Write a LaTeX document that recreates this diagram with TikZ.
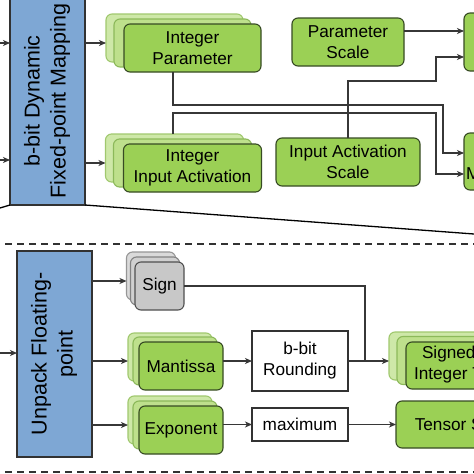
\documentclass[tikz,border=0pt]{standalone}
\usepackage{fontspec}
\setmainfont{Liberation Sans}
\usepackage{graphicx}
\usetikzlibrary{arrows.meta}
\definecolor{blueF}{RGB}{126,167,212}
\definecolor{darkline}{RGB}{50,50,50}
\definecolor{lineC}{RGB}{55,55,55}
\definecolor{gF}{RGB}{155,208,85}
\definecolor{gFd}{RGB}{55,75,35}
\definecolor{gM}{RGB}{190,224,140}
\definecolor{gMd}{RGB}{140,185,90}
\definecolor{gB}{RGB}{206,232,168}
\definecolor{gBd}{RGB}{160,200,110}
\definecolor{sF}{RGB}{200,200,200}
\definecolor{sFd}{RGB}{80,80,80}
\definecolor{sM}{RGB}{208,208,208}
\definecolor{sMd}{RGB}{130,130,130}
\definecolor{sB}{RGB}{218,218,218}
\definecolor{sBd}{RGB}{150,150,150}
\begin{document}
\begin{tikzpicture}[x=1pt,y=-1pt,
  box/.style={rectangle, inner sep=0pt, outer sep=0pt, line width=1.1pt, align=center, font=\fontsize{17.2}{21}\selectfont},
  sz/.style 2 args={minimum width=#1pt, minimum height=#2pt},
  gfront/.style={box, rounded corners=6pt, fill=gF, draw=gFd},
  gmid/.style={box, rounded corners=6pt, fill=gM, draw=gMd},
  gback/.style={box, rounded corners=6pt, fill=gB, draw=gBd},
  sfront/.style={box, rounded corners=6pt, fill=sF, draw=sFd},
  smid/.style={box, rounded corners=6pt, fill=sM, draw=sMd},
  sback/.style={box, rounded corners=6pt, fill=sB, draw=sBd},
  bluebox/.style={box, fill=blueF, draw=darkline, font=\fontsize{21.5}{26}\selectfont},
  whitebox/.style={box, fill=white, draw=darkline},
  plaintext/.style={inner sep=0pt, outer sep=0pt, align=left, font=\fontsize{17.2}{21}\selectfont},
  conn/.style={draw=lineC, line width=1.1pt},
  arr/.style={conn, -{Stealth[length=7pt,width=6pt,inset=2pt]}},
  dashline/.style={draw=darkline, line width=1.3pt, dash pattern=on 7pt off 5pt}
]
\useasboundingbox (0,0) rectangle (474,474);
\clip (0,0) rectangle (474,474);
\fill[white] (0,0) rectangle (474,474);

% ---------- top section ----------
\node[bluebox, sz={75}{208}] (b1) at (47.5,101)
  {\rotatebox{90}{\begin{tabular}{@{}c@{}}b-bit Dynamic\\Fixed-point Mapping\end{tabular}}};

\node[gback, sz={137}{48}] (ipb) at (174.5,38) {};
\node[gmid,  sz={137}{48}] (ipm) at (182.5,43) {};
\node[gfront,sz={137}{48}] (ip)  at (192.5,48) {Integer\\Parameter};

\node[gback, sz={138}{48}] (iab) at (174.5,158) {};
\node[gmid,  sz={138}{48}] (iam) at (182.5,163) {};
\node[gfront,sz={138}{48}] (ia)  at (192.5,168) {Integer\\Input Activation};

\node[gfront, sz={112}{48}] (ps)  at (348,42)  {Parameter\\Scale};
\node[gfront, sz={144}{48}] (ias) at (348,162) {Input Activation\\Scale};

\node[gfront, sz={66}{58}] (r1) at (497,42) {};
\node[gfront, sz={66}{57}] (r2) at (497,161.5) {};
\node[plaintext, anchor=west] (mlab) at (466,174) {M};

\coordinate (in1) at (0,43);
\coordinate (in2) at (0,160);
\draw[arr] (in1) -- (in1 -| b1.west);
\draw[arr] (in2) -- (in2 -| b1.west);
\draw[arr] (ipm.west -| b1.east) -- (ipm.west -| ipb.west);
\draw[arr] (iam.west -| b1.east) -- (iam.west -| iab.west);

\coordinate (r1a) at ([yshift=11pt]r1.west);
\coordinate (r1b) at ([yshift=-15pt]r1.west);
\coordinate (r2a) at ([yshift=8.5pt]r2.west);
\coordinate (r2b) at ([yshift=-12.5pt]r2.west);
\coordinate (ja) at (436,81);
\coordinate (jb) at (443,105);
\coordinate (jc) at (436,113);

\draw[arr] (r1a -| ps.east) -- (r1a);
\draw[arr] (ias.north) |- (ja) |- (r1b);
\draw[arr] ([xshift=-19.5pt]ip.south) |- (jb) |- (r2a);
\draw[arr] ([xshift=-1.5pt]iab.north) |- (jc) |- (r2b);

\coordinate (dl) at (0,208);
\coordinate (dr) at (474,234);
\draw[line width=1.3pt, draw=black] (b1.south west) -- (dl);
\draw[line width=1.3pt, draw=black] (b1.south east) -- (dr);

\coordinate (da1) at (5,244);
\coordinate (da2) at (480,244);
\coordinate (db1) at (5,472);
\coordinate (db2) at (480,472);
\draw[dashline] (da1) -- (da2);
\draw[dashline] (db1) -- (db2);

% ---------- bottom section ----------
\node[bluebox, sz={75}{206}] (b2) at (54.5,354)
  {\rotatebox{90}{\begin{tabular}{@{}c@{}}Unpack Floating-\\point\end{tabular}}};

\node[sback, sz={49}{48}] (sb) at (151,276) {};
\node[smid,  sz={49}{48}] (sm) at (155,281) {};
\node[sfront,sz={49}{48}] (sf) at (159.5,286) {Sign};

\node[gback, sz={84}{48}] (mb) at (170,357) {};
\node[gmid,  sz={84}{48}] (mm) at (175,361) {};
\node[gfront,sz={84}{48}] (mf) at (181,366) {Mantissa};

\node[gback, sz={84}{48}] (eb) at (170,420) {};
\node[gmid,  sz={84}{48}] (em) at (175,425) {};
\node[gfront,sz={84}{48}] (ef) at (181,430) {Exponent};

\node[whitebox, sz={96}{60}] (rd) at (300,361) {b-bit\\Rounding};
\node[whitebox, sz={96}{33}] (mx) at (300,424.5) {maximum};

\node[gback, sz={100}{48}] (sib) at (439,356) {};
\node[gmid,  sz={100}{48}] (sim) at (447,360.5) {};
\node[gfront,sz={100}{47}] (sif) at (456,365.5) {};
\node[plaintext, anchor=west] (sit) at (414,364.5) {\hspace*{8pt}Signed\\Integer Tensor};

\node[gfront, sz={137}{47}] (ts) at (464.5,424.5) {Tensor Scale};

\coordinate (in3) at (0,353);
\coordinate (jd) at (365,361);
\draw[arr] (in3) -- (in3 -| b2.west);
\draw[arr] (sm.west -| b2.east) -- (sm.west -| sb.west);
\draw[arr] (mm.west -| b2.east) -- (mm.west -| mb.west);
\draw[arr] (em.west -| b2.east) -- (em.west -| eb.west);
\draw[arr] (rd.west -| mf.east) -- (rd.west);
\draw[arr] (rd.east) -- (rd.east -| sib.west);
\draw[conn] (sf.east) -| (jd);
\draw[arr] (mx.west -| ef.east) -- (mx.west);
\draw[arr] (mx.east) -- (mx.east -| ts.west);
\end{tikzpicture}
\end{document}
